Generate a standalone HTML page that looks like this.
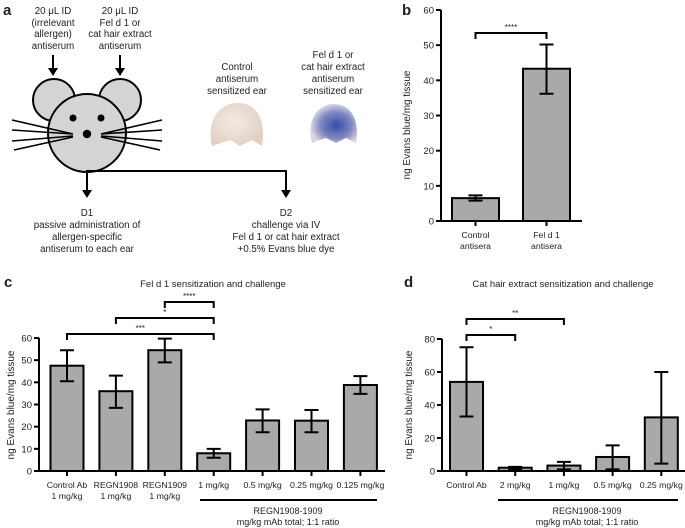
<!DOCTYPE html>
<html><head><meta charset="utf-8"><style>
body{margin:0;background:#fff}
svg{display:block;font-family:"Liberation Sans",Arial,sans-serif}
text{fill:#222}
</style></head><body>
<svg id="fig" width="685" height="528" viewBox="0 0 685 528">
<defs>
<radialGradient id="earC" cx="0.45" cy="0.45" r="0.6"><stop offset="0" stop-color="#f3ebe4"/><stop offset="1" stop-color="#e2cfc4"/></radialGradient>
<radialGradient id="earF" cx="0.55" cy="0.55" r="0.55"><stop offset="0" stop-color="#3b4aa8"/><stop offset="0.6" stop-color="#7d86c0"/><stop offset="1" stop-color="#d9d6e2"/></radialGradient>
</defs>
<g font-size="9.7" text-anchor="middle">
<text x="3" y="15" font-size="15" font-weight="bold" text-anchor="start">a</text>
<g><text x="53" y="14">20 μL ID</text><text x="53" y="26">(irrelevant</text><text x="53" y="37">allergen)</text><text x="53" y="49">antiserum</text></g>
<g><text x="120" y="14">20 μL ID</text><text x="120" y="26">Fel d 1 or</text><text x="120" y="37">cat hair extract</text><text x="120" y="49">antiserum</text></g>
<g stroke="#000" stroke-width="2"><line x1="53" y1="55" x2="53" y2="70"/><line x1="120" y1="55" x2="120" y2="70"/></g>
<path d="M48,68 L58,68 L53,76Z M115,68 L125,68 L120,76Z" fill="#000"/>
<g stroke="#000" stroke-width="2" fill="#d4d4d4">
<circle cx="54" cy="100" r="21"/><circle cx="120" cy="100" r="21"/><circle cx="87" cy="133" r="39"/>
<circle cx="73" cy="118" r="3.5" fill="#000" stroke="none"/><circle cx="101" cy="118" r="3.5" fill="#000" stroke="none"/><circle cx="87" cy="134" r="4.2" fill="#000" stroke="none"/>
<path d="M73,134 L12,120 M73,134 L12,130 M73,136 L12,141 M73,137 L14,150 M101,134 L162,120 M101,134 L162,130 M101,136 L162,141 M101,137 L160,150" fill="none" stroke-width="1.6"/>
</g>
<g><text x="237" y="70">Control</text><text x="237" y="82">antiserum</text><text x="237" y="94">sensitized ear</text></g>
<g><text x="333" y="58">Fel d 1 or</text><text x="333" y="70">cat hair extract</text><text x="333" y="82">antiserum</text><text x="333" y="94">sensitized ear</text></g>
<path d="M212,146 C206,120 220,103 238,103 C258,103 266,122 262,146 L252,140 L240,146 L230,140 Z" fill="url(#earC)"/>
<path d="M312,143 C306,120 318,104 334,104 C352,104 360,122 356,143 L346,138 L336,143 L326,138 Z" fill="url(#earF)"/>
<g stroke="#000" stroke-width="2" fill="none"><path d="M87,192 L87,171 L286,171 L286,192"/></g>
<path d="M82,190 L92,190 L87,198Z M281,190 L291,190 L286,198Z" fill="#000"/>
<g><text x="87" y="216">D1</text><text x="87" y="228">passive administration of</text><text x="87" y="240">allergen-specific</text><text x="87" y="252">antiserum to each ear</text></g>
<g><text x="286" y="216">D2</text><text x="286" y="228">challenge via IV</text><text x="286" y="240">Fel d 1 or cat hair extract</text><text x="286" y="252">+0.5% Evans blue dye</text></g>
</g>
<text x="402" y="15" font-size="15" font-weight="bold">b</text>
<text x="4" y="287" font-size="15" font-weight="bold">c</text>
<text x="404" y="287" font-size="15" font-weight="bold">d</text>
<text x="213" y="287" font-size="9.5" text-anchor="middle">Fel d 1 sensitization and challenge</text>
<text x="563" y="287" font-size="9.5" text-anchor="middle">Cat hair extract sensitization and challenge</text>
<g font-size="9" text-anchor="middle"><line x1="200" y1="500" x2="377" y2="500" stroke="#000" stroke-width="2"/><text x="288" y="514">REGN1908-1909</text><text x="288" y="525">mg/kg mAb total; 1:1 ratio</text></g>
<g font-size="9" text-anchor="middle"><line x1="498" y1="500" x2="678" y2="500" stroke="#000" stroke-width="2"/><text x="587" y="514">REGN1908-1909</text><text x="587" y="525">mg/kg mAb total; 1:1 ratio</text></g>
</svg>
<script>
// chart b data
const bCats=[["Control","antisera"],["Fel d 1","antisera"]];
const bVals=[6.5,43.3];
const bLo=[5.8,36.2];
const bHi=[7.3,50.2];
const bTicks=[0,10,20,30,40,50,60];
// chart c data
const cCats=[["Control Ab","1 mg/kg"],["REGN1908","1 mg/kg"],["REGN1909","1 mg/kg"],["1 mg/kg"],["0.5 mg/kg"],["0.25 mg/kg"],["0.125 mg/kg"]];
const cVals=[47.5,36,54.5,8,22.8,22.7,38.8];
const cLo=[40.5,28.5,49,6,17.5,17.5,34.8];
const cHi=[54.5,43,59.7,10,27.8,27.5,42.8];
const cTicks=[0,10,20,30,40,50,60];
// chart d data
const dCats=[["Control Ab"],["2 mg/kg"],["1 mg/kg"],["0.5 mg/kg"],["0.25 mg/kg"]];
const dVals=[54,2,3.3,8.5,32.5];
const dLo=[33,1,1,1,4.5];
const dHi=[75,2.5,5.5,15.5,60];
const dTicks=[0,20,40,60,80];
// significance brackets: [fromIndex,toIndex,label]
const bSig=[[0,1,"****"]];
const cSig=[[3,2,"****"],[3,1,"*"],[3,0,"***"]];
const dSig=[[0,2,"**"],[0,1,"*"]];

const NS="http://www.w3.org/2000/svg";
const svg=document.getElementById('fig');
function mk(t,a,p){const e=document.createElementNS(NS,t);for(const k in a)e.setAttribute(k,a[k]);(p||svg).appendChild(e);return e;}

function chart(o){
  const g=mk('g',{});
  
  
  const max=o.ticks[o.ticks.length-1];
  const y=v=>o.y0-(v/max)*(o.y0-o.yTop);
  const x=i=>o.x0+o.step*i;
  const ax=mk('line',{x1:o.ax,y1:o.yTop,x2:o.ax,y2:o.y0,stroke:'#000','stroke-width':2},g);
  
  
  const xa=mk('line',{x1:o.ax,y1:o.y0,x2:o.xEnd,y2:o.y0,stroke:'#000','stroke-width':2},g);
  
  
  o.ticks.forEach(t=>{
    mk('line',{x1:o.ax-5,y1:y(t),x2:o.ax,y2:y(t),stroke:'#000','stroke-width':2},g);
    const tl=mk('text',{x:o.ax-7,y:y(t)+3.5,'font-size':9.5,'text-anchor':'end'},g);
    tl.textContent=t;
    
    
  });
  const yt=mk('text',{transform:`translate(${o.ytX},${o.ytY}) rotate(-90)`,'font-size':10,'text-anchor':'middle'},g);
  yt.textContent='ng Evans blue/mg tissue';
  
  
  o.vals.forEach((v,i)=>{
    const cx=x(i);
    const r=mk('rect',{x:cx-o.bw/2,y:y(v),width:o.bw,height:o.y0-y(v),fill:'#a9a9a9',stroke:'#000','stroke-width':2},g);
    
    
    const eb=mk('path',{d:`M${cx},${y(o.lo[i])}V${y(o.hi[i])}M${cx-7},${y(o.lo[i])}H${cx+7}M${cx-7},${y(o.hi[i])}H${cx+7}`,stroke:'#000','stroke-width':2,fill:'none'},g);
    
    
    mk('line',{x1:cx,y1:o.y0,x2:cx,y2:o.y0+5,stroke:'#000','stroke-width':2},g);
    o.cats[i].forEach((s,k)=>{
      const t=mk('text',{x:cx,y:o.y0+17+k*11,'font-size':8.7,'text-anchor':'middle'},g);
      t.textContent=s;
      
      
    });
  });
  o.sig.forEach((s,k)=>{
    const yy=o.sigY[k];
    const p=mk('path',{d:`M${x(s[0])},${yy+6}V${yy}H${x(s[1])}V${yy+6}`,stroke:'#000','stroke-width':2,fill:'none'},g);
    
    
    const t=mk('text',{x:(x(s[0])+x(s[1]))/2,y:yy-3,'font-size':8,'text-anchor':'middle'},g);
    t.textContent=s[2];
    
    
  });
}
chart({name:'chart-b',cats:bCats,vals:bVals,lo:bLo,hi:bHi,ticks:bTicks,sig:bSig,sigY:[33],
  ax:441,x0:475.5,step:71,bw:47,y0:221,yTop:10,xEnd:582,ytX:410,ytY:125});
chart({name:'chart-c',cats:cCats,vals:cVals,lo:cLo,hi:cHi,ticks:cTicks,sig:cSig,sigY:[302,318,334],
  ax:39,x0:67,step:48.9,bw:33,y0:471,yTop:338,xEnd:385,ytX:14,ytY:405});
chart({name:'chart-d',cats:dCats,vals:dVals,lo:dLo,hi:dHi,ticks:dTicks,sig:dSig,sigY:[319,335],
  ax:442,x0:466.5,step:48.7,bw:33,y0:471,yTop:339,xEnd:685,ytX:412,ytY:405});
</script>
</body></html>
